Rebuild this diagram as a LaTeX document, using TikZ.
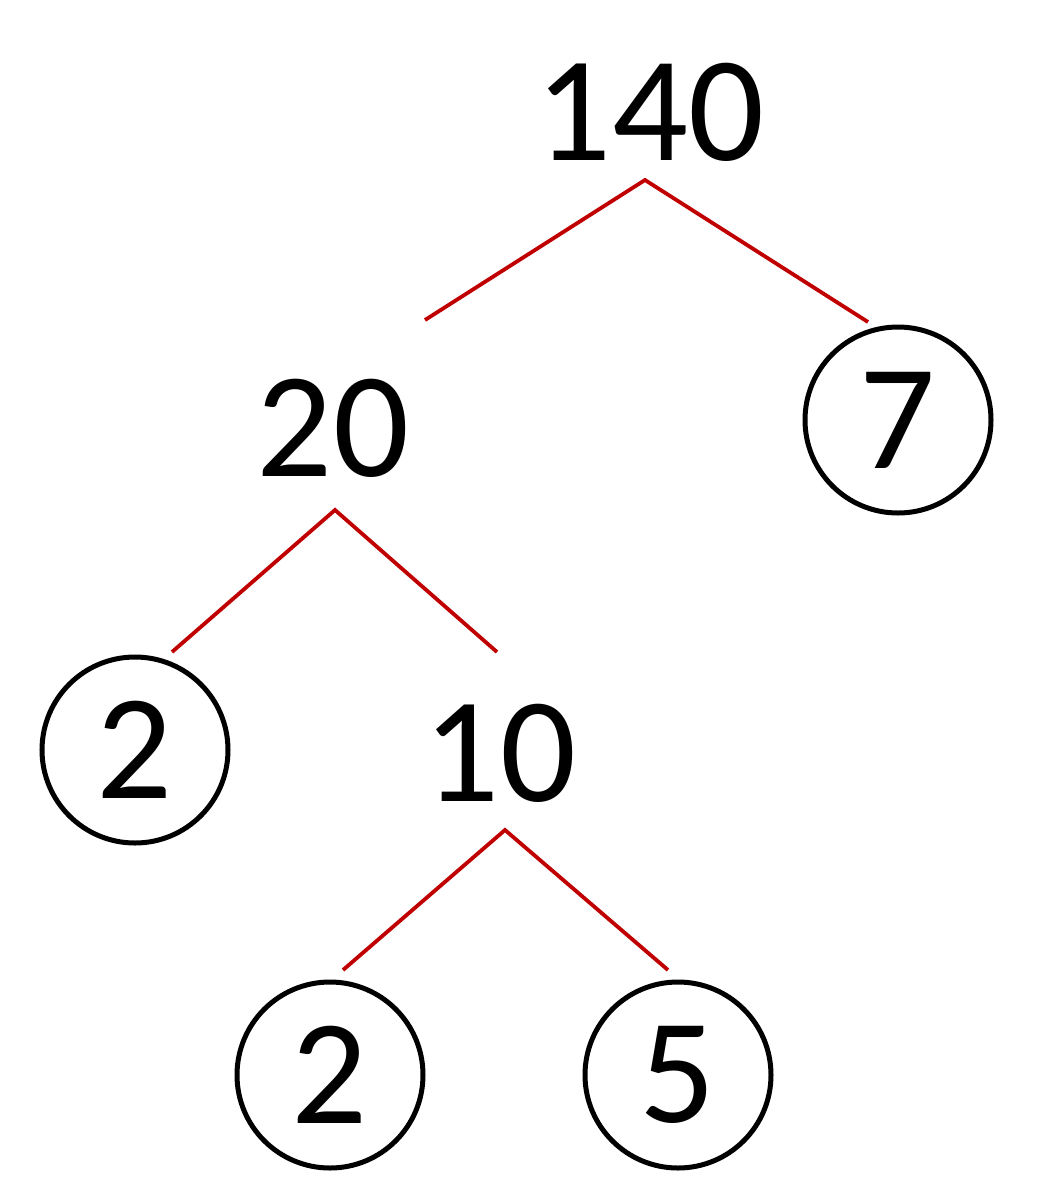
\documentclass[tikz,border=0pt]{standalone}
\usepackage{fontspec}
\setmainfont{Carlito}
\begin{document}
\begin{tikzpicture}[x=0.5pt,y=-0.5pt,
  num/.style={font=\fontsize{75}{80}\selectfont, inner sep=0pt},
  circ/.style={draw, circle, line width=2.5pt, minimum size=93pt},
  edge/.style={draw={rgb,255:red,192;green,0;blue,0}, line width=1.9pt}]
\useasboundingbox (0,0) rectangle (1049,1200);
\node[num] (n140) at (650,112) {140};
\node[num] (n20) at (333,428) {20};
\node[num] (n10) at (500,753) {10};
\node[circ] (c7) at (898,420) {};
\node[num] at (c7) (t7) {7};
\node[circ] (c2a) at (135,750) {};
\node[num] at (c2a) (t2a) {2};
\node[circ] (c2b) at (330,1075) {};
\node[num] at (c2b) (t2b) {2};
\node[circ] (c5) at (678,1075) {};
\node[num] at (c5) (t5) {5};
\coordinate (a1) at (645,180); \coordinate (a2) at (425,320); \coordinate (a3) at (868,322);
\coordinate (b1) at (335,510); \coordinate (b2) at (172,652); \coordinate (b3) at (497,652);
\coordinate (d1) at (505,830); \coordinate (d2) at (343,970); \coordinate (d3) at (668,970);
\draw[edge] (a2) -- (a1) -- (a3);
\draw[edge] (b2) -- (b1) -- (b3);
\draw[edge] (d2) -- (d1) -- (d3);
\end{tikzpicture}
\end{document}
